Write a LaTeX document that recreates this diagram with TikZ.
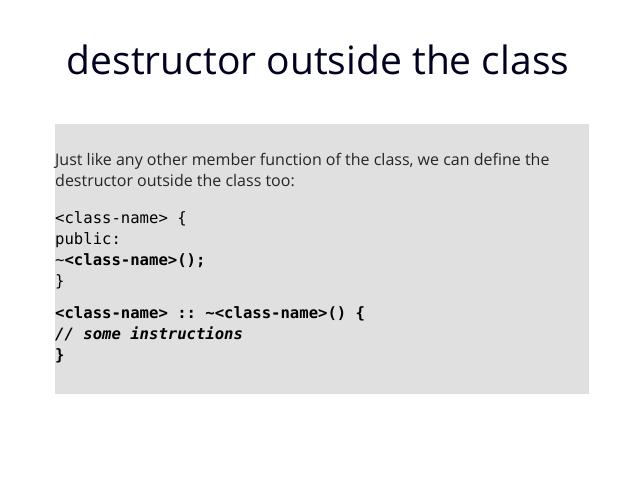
\documentclass[tikz,border=0pt]{standalone}
\usepackage{fontspec}
\setmainfont{Open Sans}
\setmonofont{DejaVu Sans Mono}
\begin{document}
\begin{tikzpicture}[x=1pt,y=-1pt,
  txt/.style={anchor=base west,inner sep=0,font=\fontsize{16}{19}\selectfont,text=black!85},
  code/.style={anchor=base west,inner sep=0,font=\ttfamily\fontsize{15.6}{18}\selectfont,text=black}]
\useasboundingbox[fill=white] (0,0) rectangle (638,478);
\fill[black!12] (55,124) rectangle (589,394);
\node[anchor=base,inner sep=0,font=\fontsize{39}{44}\selectfont,text=black!80!blue!60!black] (title) at (318,75) {destructor outside the class};
\node[txt] (l1) at (55,166) {Just like any other member function of the class, we can define the};
\node[txt] (l2) at (55,187) {destructor outside the class too:};
\node[code] (c1) at (55,224) {<class-name> \{};
\node[code] (c2) at (55,245) {public:};
\node[code] (c3) at (55,266) {\textasciitilde\bfseries<class-name>();};
\node[code] (c4) at (55,287) {\}};
\node[code,font=\ttfamily\bfseries\fontsize{15.6}{18}\selectfont] (c5) at (55,319) {<class-name> :: \textasciitilde<class-name>() \{};
\node[code,font=\ttfamily\bfseries\itshape\fontsize{15.6}{18}\selectfont] (c6) at (55,340) {// some instructions};
\node[code,font=\ttfamily\bfseries\fontsize{15.6}{18}\selectfont] (c7) at (55,361) {\}};
\end{tikzpicture}
\end{document}
